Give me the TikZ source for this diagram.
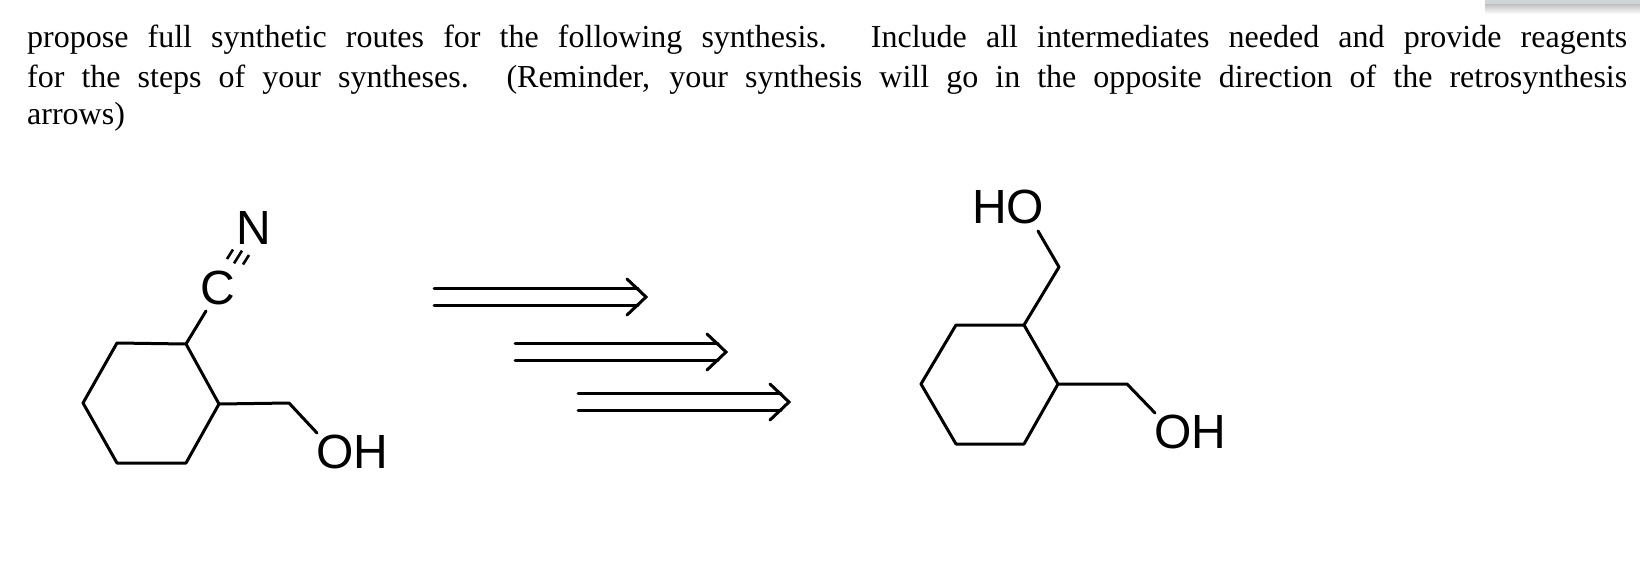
\documentclass[tikz,border=0pt]{standalone}
\usepackage{fontspec}
\setmainfont{Liberation Serif}
\newfontfamily\chemfont{Liberation Sans}
\usetikzlibrary{arrows.meta,calc}
\begin{document}
\begin{tikzpicture}[x=1pt,y=-1pt,
  bond/.style={line width=3pt,line cap=round,line join=round},
  atom/.style={font=\chemfont\fontsize{48}{48}\selectfont,inner sep=0pt},
  retro/.style={line width=3pt,line cap=round,line join=miter},
  prose/.style={anchor=base west,inner sep=0pt,font=\fontsize{32}{32}\selectfont}]
\useasboundingbox (0,0) rectangle (1640,586);
\shade[top color=gray!70,bottom color=white] (1485,0) rectangle (1640,14);
\fill[cyan!10!gray!40] (1485,0) rectangle (1640,4);
\node[prose] (l1) at (27,48) {\makebox[1600pt][s]{propose full synthetic routes for the following synthesis. Include all intermediates needed and provide reagents}};
\node[prose] (l2) at (27,87) {\makebox[1600pt][s]{for the steps of your syntheses. (Reminder, your synthesis will go in the opposite direction of the retrosynthesis}};
\node[prose] (l3) at (27,124) {arrows)};
% left molecule
\coordinate (a1) at (117,343); \coordinate (a2) at (186,344); \coordinate (a3) at (219,404);
\coordinate (a4) at (186,463); \coordinate (a5) at (117,463); \coordinate (a6) at (83,403);
\draw[bond] (a1)--(a2)--(a3)--(a4)--(a5)--(a6)--cycle;
\node[atom] (C) at (218,288) {C};
\node[atom] (N) at (254,228) {N};
\coordinate (ct) at (206,311);
\draw[bond] (a2)--(ct);
\coordinate (tm) at (238,257);
\draw[line width=2.6pt] ($(tm)+(-4,6.4)$)--($(tm)+(4,-6.4)$);
\draw[line width=2.6pt] ($(tm)+(-11,2)$)--($(tm)+(-5,-7.5)$);
\draw[line width=2.6pt] ($(tm)+(5,7.5)$)--($(tm)+(11,-2)$);
\coordinate (b1) at (289,403); \coordinate (b2) at (317,433);
\draw[bond] (a3)--(b1)--(b2);
\node[atom] (OH1) at (352,452) {OH};
% arrows
\foreach \n/\sx/\ex/\yy in {1/434/646/297, 2/515/726/352, 3/578/789/402}{
  \coordinate (r\n s) at (\sx,\yy); \coordinate (r\n e) at (\ex,\yy);
  \draw[retro] ($(r\n s)+(0,-8.5)$) -- ($(r\n e)+(-8,-8.5)$);
  \draw[retro] ($(r\n s)+(0,8.5)$) -- ($(r\n e)+(-8,8.5)$);
  \draw[retro] ($(r\n e)+(-19,-18)$) -- (r\n e) -- ($(r\n e)+(-19,18)$);
}
% right molecule
\coordinate (c1) at (956,325); \coordinate (c2) at (1024,325); \coordinate (c3) at (1058,384);
\coordinate (c4) at (1024,444); \coordinate (c5) at (956,444); \coordinate (c6) at (921,384);
\draw[bond] (c1)--(c2)--(c3)--(c4)--(c5)--(c6)--cycle;
\coordinate (d1) at (1059,267); \coordinate (d2) at (1038,231);
\draw[bond] (c2)--(d1)--(d2);
\node[atom] (HO) at (1008,207) {HO};
\coordinate (e1) at (1127,384); \coordinate (e2) at (1155,413);
\draw[bond] (c3)--(e1)--(e2);
\node[atom] (OH2) at (1190,432) {OH};
\end{tikzpicture}
\end{document}
